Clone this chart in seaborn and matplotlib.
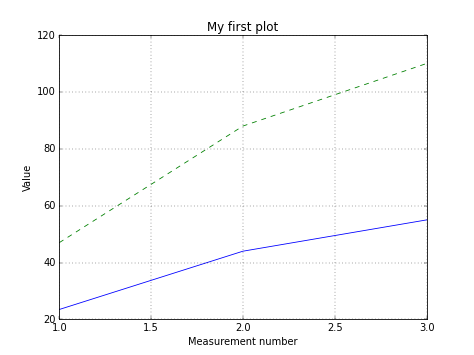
import matplotlib
matplotlib.use("Agg")
import matplotlib.pyplot as plt
import seaborn as sns
import pandas as pd

measurement = [1.0, 2.0, 3.0]
series_a = [23.5, 44.0, 55.0]
series_b = [47.0, 88.0, 110.0]

plt.style.use("classic")

df = pd.DataFrame({"x": measurement, "a": series_a, "b": series_b})

fig, ax = plt.subplots(figsize=(8, 6), dpi=59.25)
sns.lineplot(data=df, x="x", y="a", ax=ax, color="b", linestyle="-", linewidth=1.0)
sns.lineplot(data=df, x="x", y="b", ax=ax, color="g", linestyle="--", linewidth=1.0)
ax.set_xlim(1.0, 3.0)
ax.set_ylim(20, 120)
ax.set_xticks([1.0, 1.5, 2.0, 2.5, 3.0])
ax.set_yticks([20, 40, 60, 80, 100, 120])
ax.grid(True)
ax.set_title("My first plot")
ax.set_xlabel("Measurement number")
ax.set_ylabel("Value")
fig.savefig("out.png", dpi=59.25)
